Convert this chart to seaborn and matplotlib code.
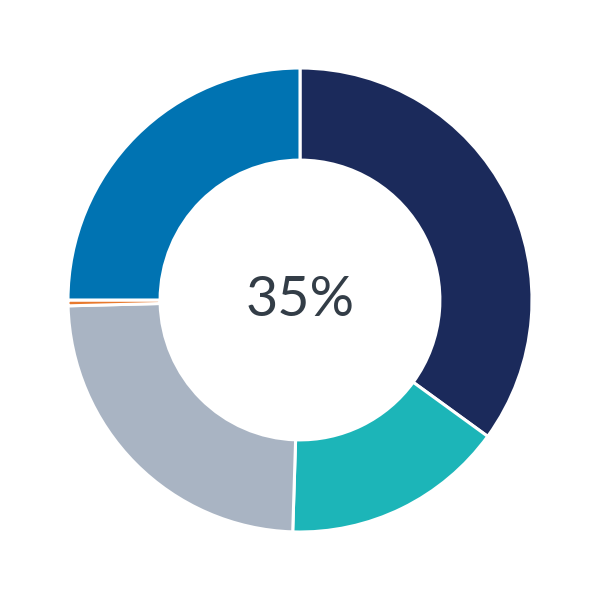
import matplotlib
matplotlib.use("Agg")
import matplotlib.pyplot as plt
import seaborn as sns

labels = ["Navy", "Teal", "Gray", "Orange", "Blue"]
values = [35.0, 15.5, 24.1, 0.4, 25.0]
colors = ["#1b2a5b", "#1cb5b8", "#a9b4c3", "#e8792d", "#0073b2"]
center_label = "35%"

sns.set_theme(style="white")
plt.rcParams['font.family'] = ['Lato', 'DejaVu Sans']

fig = plt.figure(figsize=(6, 6), dpi=100)
ax = fig.add_axes([0, 0, 1, 1])
ax.pie(values, colors=colors, startangle=90, counterclock=False,
       radius=1.0,
       wedgeprops=dict(width=0.397, edgecolor="white", linewidth=2.2))
lim = 300 / 232
ax.set_xlim(-lim, lim)
ax.set_ylim(-lim, lim)
ax.set_aspect("equal")
ax.axis("off")
ax.text(0, 0.0, center_label, ha="center", va="center", fontsize=40,
        color="#333d47", fontweight="normal")
fig.savefig("out.png", dpi=100)
